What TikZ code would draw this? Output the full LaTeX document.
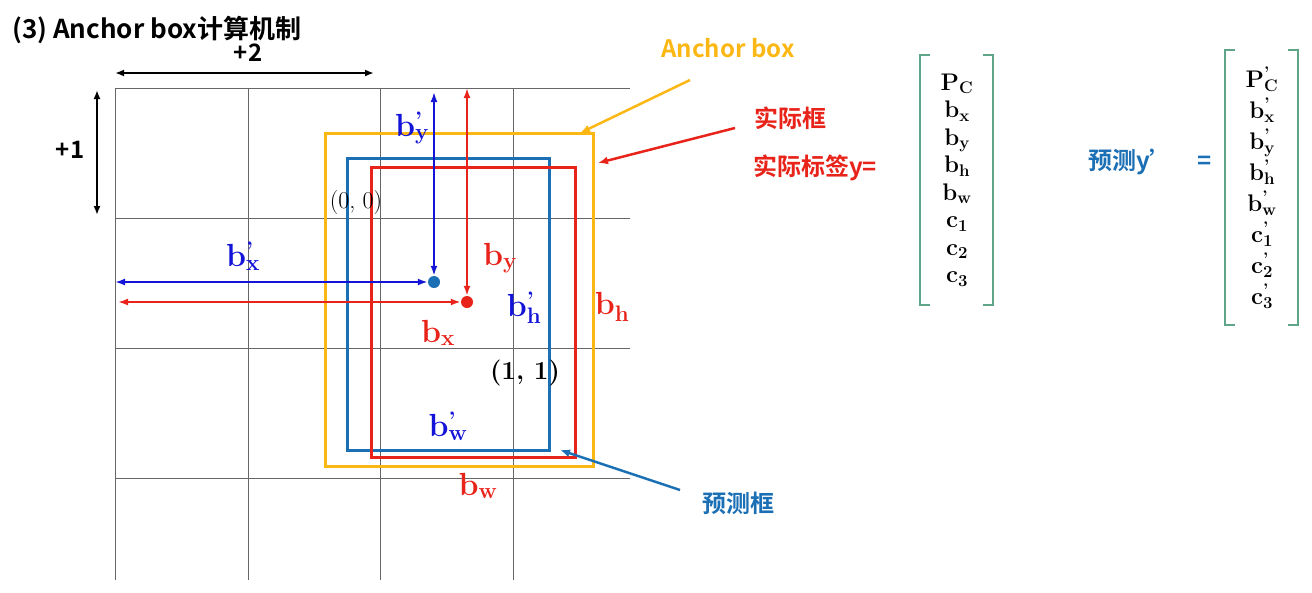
\documentclass[tikz,border=0pt]{standalone}
\usepackage{fontspec}
\newfontfamily\cjk{Noto Sans CJK SC}[BoldFont={* Bold}]
\usetikzlibrary{arrows.meta}
\definecolor{ayel}{HTML}{FBB714}
\definecolor{pblue}{HTML}{1B6FB5}
\definecolor{ablue}{HTML}{1414D8}
\definecolor{ared}{HTML}{E8231A}
\definecolor{brk}{HTML}{5FA58A}
\newcommand{\bq}[2]{\textbf{#1\textsubscript{#2}}}
\newcommand{\bqp}[2]{\textbf{#1\rlap{\textsuperscript{’}}\textsubscript{#2}}}
\tikzset{
 grid/.style={draw=black!60,line width=0.8pt},
 dim/.style={{Latex[length=9pt,width=7pt]}-{Latex[length=9pt,width=7pt]},line width=2.5pt},
 lab/.style={inner sep=0pt,font=\fontsize{32}{34}\selectfont},
 cn/.style={inner sep=0pt,font=\cjk\bfseries\fontsize{24}{26}\selectfont},
 callout/.style={-{Latex[length=10pt,width=8pt]},line width=2.5pt},
}
\begin{document}
\begin{tikzpicture}[x=1pt,y=-1pt]
\useasboundingbox (0,0) rectangle (1312,592);
% grid
\foreach \x in {115,248,380,513} \draw[grid] (\x,88) -- (\x,580);
\foreach \y in {88,218,348,478} \draw[grid] (115,\y) -- (630,\y);
% title
\node[cn,anchor=west,font=\cjk\bfseries\fontsize{26}{28}\selectfont] (title) at (12,30) {(3) Anchor box计算机制};
% dimension arrows
\coordinate (d2a) at (115,73); \coordinate (d2b) at (374,73);
\draw[dim] (d2a) -- (d2b);
\node[cn] (p2) at (248,53) {+2};
\coordinate (d1a) at (97,90); \coordinate (d1b) at (97,215);
\draw[dim] (d1a) -- (d1b);
\node[cn] (p1) at (70,150) {+1};
% boxes
\draw[ayel,line width=3pt] (325,133) rectangle (593,466);
\draw[pblue,line width=3pt] (347,158) rectangle (549,450);
\draw[ared,line width=3pt] (371,167) rectangle (575,457);
% centers
\node[circle,fill=pblue,inner sep=0pt,minimum size=12pt] (cb) at (434,282) {};
\node[circle,fill=ared,inner sep=0pt,minimum size=12pt] (cr) at (467,302) {};
\coordinate (tb) at (434,92); \coordinate (tr) at (467,88);
\coordinate (lb) at (115,282); \coordinate (lr) at (118,302);
\tikzset{arr/.style={{Latex[length=10pt,width=7pt]}-{Latex[length=10pt,width=7pt]},line width=2.5pt}}
\draw[arr,ablue] (tb) -- (cb.north);
\draw[arr,ablue] (lb) -- (cb.west);
\draw[arr,ared] (tr) -- (cr.north);
\draw[arr,ared] (lr) -- (cr.west);
% labels
\node[lab,text=ablue] (lby) at (412,128) {\bqp{b}{y}};
\node[lab,text=black,font=\fontsize{24}{26}\selectfont] (o00) at (356,203) {(0, 0)};
\node[lab,text=ablue] (lbx) at (243,256) {\bqp{b}{x}};
\node[lab,text=ared] (rby) at (500,258) {\bq{b}{y}};
\node[lab,text=ablue] (lbh) at (524,308) {\bqp{b}{h}};
\node[lab,text=ared] (rbh) at (612,307) {\bq{b}{h}};
\node[lab,text=ared] (rbx) at (438,333) {\bq{b}{x}};
\node[lab,text=black,font=\bfseries\fontsize{26}{28}\selectfont] (o11) at (525,373) {(1, 1)};
\node[lab,text=ablue] (lbw) at (448,426) {\bqp{b}{w}};
\node[lab,text=ared] (rbw) at (478,486) {\bq{b}{w}};
% callouts
\node[cn,text=ayel] (tanc) at (728,48) {Anchor box};
\node[cn,text=ared] (tgt) at (790,118) {实际框};
\node[cn,text=ared] (tgty) at (815,168) {实际标签y=};
\node[cn,text=pblue] (tpre) at (738,503) {预测框};
\coordinate (ya) at (580,133); \coordinate (ra) at (598,163); \coordinate (ba) at (560,450);
\draw[callout,ayel] (690,80) -- (ya);
\draw[callout,ared] (735,128) -- (ra);
\draw[callout,pblue] (680,490) -- (ba);
% matrices
\tikzset{brack/.style={draw=brk,line width=1.5pt},
 col/.style={inner sep=0pt,align=center,font=\fontsize{24}{27.5}\selectfont}}
\draw[brack] (930,55) -- (920,55) -- (920,305) -- (930,305);
\draw[brack] (983,55) -- (993,55) -- (993,305) -- (983,305);
\node[col] (mt) at (957,180) {\bq{P}{C}\\\bq{b}{x}\\\bq{b}{y}\\\bq{b}{h}\\\bq{b}{w}\\\bq{c}{1}\\\bq{c}{2}\\\bq{c}{3}};
\node[cn,text=pblue] (tpy) at (1150,162) {预测y’\quad=};
\draw[brack] (1235,50) -- (1225,50) -- (1225,325) -- (1235,325);
\draw[brack] (1288,50) -- (1298,50) -- (1298,325) -- (1288,325);
\node[col,font=\fontsize{24}{31}\selectfont] (mp) at (1262,188) {\bqp{P}{C}\\\bqp{b}{x}\\\bqp{b}{y}\\\bqp{b}{h}\\\bqp{b}{w}\\\bqp{c}{1}\\\bqp{c}{2}\\\bqp{c}{3}};
\end{tikzpicture}
\end{document}
